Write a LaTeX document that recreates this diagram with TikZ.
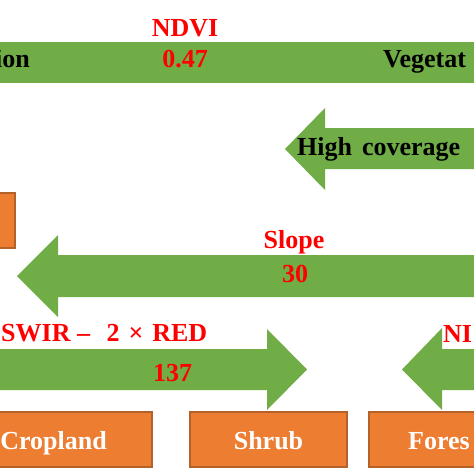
\documentclass[tikz,border=0pt]{standalone}
\usepackage{fontspec}
\setmainfont{Liberation Serif}
\definecolor{arrowgreen}{HTML}{70AD47}
\definecolor{boxorange}{HTML}{ED7D31}
\definecolor{boxedge}{HTML}{B4622A}
\definecolor{valred}{HTML}{FF0000}
\begin{document}
\begin{tikzpicture}[x=1pt,y=-1pt,
  font=\fontsize{26}{30}\selectfont\bfseries,
  greenarrow/.style={fill=arrowgreen, draw=none},
  orangebox/.style={draw=boxedge, fill=boxorange, line width=1.2pt, inner sep=0pt},
  redlabel/.style={text=valred, inner sep=0pt, anchor=base},
  blacklabel/.style={text=black, inner sep=0pt, anchor=base},
  whitelabel/.style={text=white, inner sep=0pt, anchor=base}]
\useasboundingbox (0,0) rectangle (474,474);
\clip (0,0) rectangle (474,474);

% top bar (NDVI)
\fill[greenarrow] (-5,42) rectangle (480,83);
% high coverage arrow (left-pointing)
\fill[greenarrow] (285,149) -- (325,108) -- (325,128) -- (480,128) -- (480,169) -- (325,169) -- (325,190) -- cycle;
% slope arrow (left-pointing)
\fill[greenarrow] (17,276) -- (58,235) -- (58,255) -- (480,255) -- (480,297) -- (58,297) -- (58,317) -- cycle;
% SWIR arrow (right-pointing)
\fill[greenarrow] (-5,349) -- (267,349) -- (267,329) -- (307,369.5) -- (267,410) -- (267,390) -- (-5,390) -- cycle;
% right arrow (left-pointing)
\fill[greenarrow] (402,369.5) -- (442,328) -- (442,349) -- (480,349) -- (480,390) -- (442,390) -- (442,410) -- cycle;

% boxes
\node[orangebox, minimum width=80pt, minimum height=55pt] (leftbox) at (-25,220.5) {};
\node[orangebox, minimum width=197pt, minimum height=55pt] (crop) at (53.5,439.5) {};
\node[orangebox, minimum width=157pt, minimum height=55pt] (shrub) at (268.5,439.5) {};
\node[orangebox, minimum width=160pt, minimum height=55pt] (forest) at (449,439.5) {};

% labels
\node[redlabel] (ndvi) at (185,36) {NDVI};
\node[redlabel] (ndvival) at (185,67) {0.47};
\node[blacklabel, anchor=base east] (ion) at (30,67) {ion};
\node[blacklabel, anchor=base west] (veg) at (383,67) {Vegetat};
\node[blacklabel, anchor=base west] (high) at (297,155) {High\hspace{10pt}coverage};
\node[redlabel] (slope) at (294,248) {Slope};
\node[redlabel] (slopeval) at (295,282) {30};
\node[redlabel, anchor=base west] (swir) at (1,341) {SWIR – \hspace{10pt}2\hspace{9pt}×\hspace{9pt}RED};
\node[redlabel] (swirval) at (172.5,381) {137};
\node[redlabel, anchor=base west] (ni) at (443,342) {NI};
\node[whitelabel] (croplabel) at (crop.center |- 0,449) {Cropland};
\node[whitelabel] (shrublabel) at (shrub.center |- 0,449) {Shrub};
\node[whitelabel, anchor=base west] (forestlabel) at (408,449) {Fores};
\end{tikzpicture}
\end{document}
